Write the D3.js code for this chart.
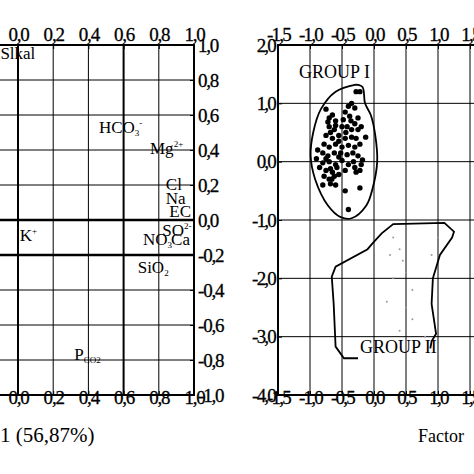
<!DOCTYPE html><html><head><meta charset="utf-8"><script src="https://cdn.jsdelivr.net/npm/d3@7"></script>
<style>body{margin:0;background:#fff}text{font-family:"Liberation Serif",serif}</style></head><body>
<svg id="c" width="474" height="474"></svg>
<script>
const loadTicks=[-1,-0.8,-0.6,-0.4,-0.2,0,0.2,0.4,0.6,0.8,1];
const loadXTicks=[0,0.2,0.4,0.6,0.8,1];
const loadings=[
 {t:"Slkal",x:-0.1,y:0.92},{t:"HCO",s:"3",sup:"-",x:0.46,y:0.5},{t:"Mg",sup:"2+",x:0.75,y:0.38},
 {t:"Cl",x:0.84,y:0.17},{t:"Na",x:0.84,y:0.09},{t:"EC",x:0.86,y:0.02},{t:"K",sup:"+",x:0.01,y:-0.12},
 {t:"NO",s:"3",x:0.71,y:-0.14},{t:"Ca",x:0.87,y:-0.14},{t:"SO",sup:"2-",x:0.82,y:-0.09},
 {t:"SiO",s:"2",x:0.68,y:-0.3},{t:"P",s:"CO2",x:0.32,y:-0.8}];
const scoreXTicks=[-1.5,-1,-0.5,0,0.5,1,1.5];
const scoreYTicks=[-4,-3,-2,-1,0,1,2];
const group1=[[-0.28,1.2],[-0.22,1.2],[-0.75,0.9],[-0.4,0.95],[-0.35,1.0],[-0.3,0.92],[-0.65,0.8],[-0.7,0.75],[-0.6,0.7],[-0.45,0.85],[-0.38,0.78],[-0.25,0.75],[-0.3,0.65],[-0.7,0.6],[-0.62,0.55],[-0.5,0.6],[-0.42,0.6],[-0.35,0.55],[-0.25,0.55],[-0.2,0.6],[-0.75,0.45],[-0.65,0.4],[-0.55,0.45],[-0.45,0.4],[-0.35,0.42],[-0.28,0.4],[-0.13,0.42],[-0.78,0.3],[-0.7,0.25],[-0.6,0.3],[-0.5,0.25],[-0.4,0.28],[-0.3,0.25],[-0.22,0.3],[-0.8,0.15],[-0.72,0.1],[-0.62,0.15],[-0.55,0.08],[-0.42,0.12],[-0.33,0.15],[-0.25,0.1],[-0.9,0.05],[-0.8,-0.02],[-0.7,0.0],[-0.6,-0.05],[-0.5,0.02],[-0.4,-0.05],[-0.32,0.0],[-0.2,-0.05],[-0.18,0.03],[-0.85,-0.1],[-0.75,-0.15],[-0.68,-0.12],[-0.58,-0.1],[-0.45,-0.15],[-0.3,-0.1],[-0.28,-0.18],[-0.22,-0.15],[-0.78,-0.25],[-0.7,-0.3],[-0.62,-0.25],[-0.55,-0.22],[-0.8,-0.4],[-0.68,-0.38],[-0.6,-0.4],[-0.45,-0.5],[-0.22,-0.45],[-0.4,-0.82],[-0.88,0.2],[-0.6,0.62],[-0.48,0.72],[-0.55,0.35],[-0.65,-0.18],[-0.72,0.68],[-0.68,0.5],[-0.52,0.15],[-0.75,0.05],[-0.66,-0.3],[-0.36,0.7],[-0.44,0.5]];
const ell=[[-0.28,1.32],[-0.18,1.28],[-0.14,1.0],[-0.05,0.8],[0.02,0.45],[0.05,0.0],[-0.02,-0.45],[-0.12,-0.75],[-0.35,-0.97],[-0.52,-0.95],[-0.72,-0.75],[-0.92,-0.3],[-0.99,0.1],[-0.95,0.5],[-0.83,0.9],[-0.6,1.2],[-0.28,1.32]];
const group2=[[0.88,-3.2],[0.9,-3.08],[0.97,-2.95],[0.9,-2.44],[0.92,-2.0],[1.03,-1.6],[1.22,-1.3],[1.25,-1.2],[1.1,-1.05],[0.3,-1.07],[0.12,-1.23],[-0.03,-1.41],[-0.1,-1.5],[-0.6,-1.8],[-0.66,-1.97],[-0.63,-2.44],[-0.6,-3.17],[-0.47,-3.37],[-0.25,-3.37]];
const group2pts=[[0.3,-1.3],[0.4,-1.5],[0.45,-1.7],[0.25,-1.6],[0.5,-1.9],[0.3,-2.0],[0.6,-2.2],[0.2,-2.4],[0.5,-2.5],[0.6,-2.7],[0.4,-2.9],[0.8,-3.0],[0.9,-1.6],[1.0,-1.3]];
const svg=d3.select("#c");
const fs=19;
const fmt=d=>d3.format(".1f")(d).replace(".",",").replace("−","-");
const lx=d3.scaleLinear().domain([0,1]).range([18,194]);
const ly=d3.scaleLinear().domain([-1,1]).range([395,45]);
const L=svg.append("g");
L.selectAll(".vg").data(loadXTicks).join("line").attr("x1",d=>lx(d)).attr("x2",d=>lx(d)).attr("y1",45).attr("y2",395).attr("stroke","#000").attr("stroke-width",d=>d===0||d===0.6?2:1);
L.selectAll(".hg").data(loadTicks).join("line").attr("x1",0).attr("x2",194).attr("y1",d=>ly(d)).attr("y2",d=>ly(d)).attr("stroke","#000").attr("stroke-width",d=>d===0||Math.abs(d+0.2)<1e-9?2.5:1);
L.append("path").attr("d","M0,45H194V395H0").attr("fill","none").attr("stroke","#000").attr("stroke-width",2);
L.append("g").attr("transform","translate(0,45)").call(d3.axisTop(lx).tickValues(loadXTicks).tickFormat(fmt).tickSize(-4)).call(g=>{g.select(".domain").remove();g.selectAll("text").attr("dy",-1)});
L.append("g").attr("transform","translate(0,395)").call(d3.axisBottom(lx).tickValues(loadXTicks).tickFormat(fmt).tickSize(-4)).call(g=>{g.select(".domain").remove();g.selectAll("text").attr("dy",6)});
L.append("g").attr("transform","translate(194,0)").call(d3.axisRight(ly).tickValues(loadTicks).tickFormat(fmt).tickSize(-4)).call(g=>{g.select(".domain").remove();g.selectAll("text").attr("x",4)});
L.selectAll(".tick text").attr("font-size",fs).attr("font-family","Liberation Serif").attr("letter-spacing",-1.2).attr("stroke","#000").attr("stroke-width",0.3);
const lt=L.selectAll(".lt").data(loadings).join("text").attr("x",d=>lx(d.x)).attr("y",d=>ly(d.y)).attr("font-size",17);
lt.each(function(d){const t=d3.select(this);t.append("tspan").text(d.t);if(d.s)t.append("tspan").attr("font-size",9).attr("dy",3).text(d.s);if(d.sup)t.append("tspan").attr("font-size",9).attr("dy",d.s?-10:-7).text(d.sup);});
svg.append("text").attr("x",0).attr("y",442).attr("font-size",21).text("1 (56,87%)");
const rx=d3.scaleLinear().domain([-1.5,2]).range([278,502]);
const ry=d3.scaleLinear().domain([-4,2]).range([395,45]);
const R=svg.append("g");
R.selectAll(".vg").data(scoreXTicks).join("line").attr("x1",d=>rx(d)).attr("x2",d=>rx(d)).attr("y1",45).attr("y2",395).attr("stroke","#000").attr("stroke-width",1);
R.selectAll(".hg").data(scoreYTicks).join("line").attr("x1",278).attr("x2",474).attr("y1",d=>ry(d)).attr("y2",d=>ry(d)).attr("stroke","#000").attr("stroke-width",1);
R.append("path").attr("d","M474,45H278V395H474").attr("fill","none").attr("stroke","#000").attr("stroke-width",2);
R.append("g").attr("transform","translate(0,45)").call(d3.axisTop(rx).tickValues(scoreXTicks).tickFormat(fmt).tickSize(-4)).call(g=>{g.select(".domain").remove();g.selectAll("text").attr("dy",-1)});
R.append("g").attr("transform","translate(0,395)").call(d3.axisBottom(rx).tickValues(scoreXTicks).tickFormat(fmt).tickSize(-4)).call(g=>{g.select(".domain").remove();g.selectAll("text").attr("dy",6)});
R.append("g").attr("transform","translate(278,0)").call(d3.axisLeft(ry).tickValues(scoreYTicks).tickFormat(fmt).tickSize(-4)).call(g=>{g.select(".domain").remove();g.selectAll("text").attr("x",-3)});
R.selectAll(".tick text").attr("font-size",fs).attr("font-family","Liberation Serif").attr("letter-spacing",-1.8).attr("stroke","#000").attr("stroke-width",0.3);
R.append("path").attr("d",d3.line().x(d=>rx(d[0])).y(d=>ry(d[1])).curve(d3.curveCatmullRom)(ell)).attr("fill","none").attr("stroke","#000").attr("stroke-width",1.8);
R.append("path").attr("d",d3.line().x(d=>rx(d[0])).y(d=>ry(d[1]))(group2)).attr("fill","none").attr("stroke","#000").attr("stroke-width",1.8);
R.selectAll(".p1").data(group1).join("circle").attr("cx",d=>rx(d[0])).attr("cy",d=>ry(d[1])).attr("r",2.7).attr("fill","#000");
R.selectAll(".p2").data(group2pts).join("circle").attr("cx",d=>rx(d[0])).attr("cy",d=>ry(d[1])).attr("r",1).attr("fill","#999");
R.append("text").attr("x",rx(-1.17)).attr("y",ry(1.43)).attr("font-size",18).text("GROUP I");
R.append("text").attr("x",rx(-0.22)).attr("y",ry(-3.28)).attr("font-size",18).text("GROUP II");
svg.append("text").attr("x",418).attr("y",442).attr("font-size",18).text("Factor");
</script></body></html>
